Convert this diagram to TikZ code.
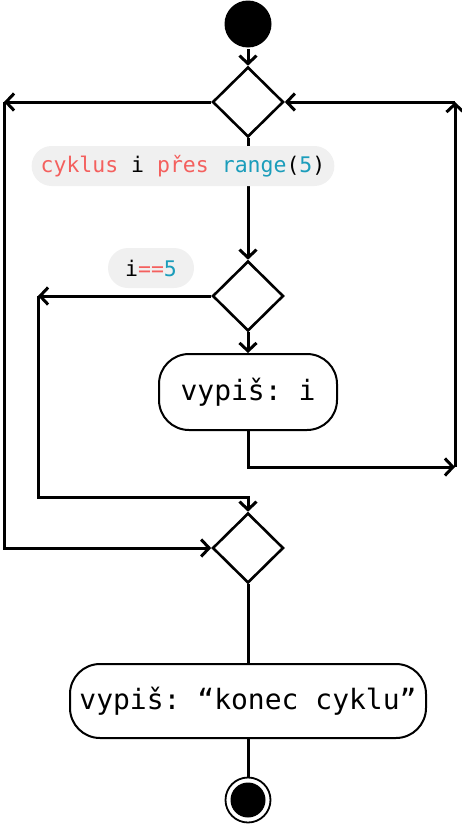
\documentclass[tikz,border=0pt]{standalone}
\usepackage{fontspec}
\setmonofont{DejaVu Sans Mono}
\usetikzlibrary{arrows.meta,shapes.geometric}
\definecolor{kwred}{HTML}{F4605E}
\definecolor{kwteal}{HTML}{1B9DBB}
\definecolor{tagfill}{HTML}{F0F0F0}

\begin{document}
\begin{tikzpicture}[x=1pt,y=-1pt,line width=3pt,
    flow/.style={-{Straight Barb[length=8pt,width=17pt]}},
    choice/.style={diamond,draw,line width=2.6pt,minimum width=71pt,minimum height=70pt,inner sep=0pt},
    action/.style={draw,line width=2pt,rounded corners=30pt,font=\ttfamily\fontsize{28}{32}\selectfont},
    guard/.style={fill=tagfill,rounded corners=20pt,font=\ttfamily\fontsize{21.5}{24}\selectfont,minimum height=40pt,inner xsep=9pt}]
  \useasboundingbox (0,0) rectangle (461,827);

  % activity nodes
  \node[circle,fill,minimum size=47pt,inner sep=0pt] (start) at (248,24) {};
  \node[choice] (loop) at (248,102) {};
  \node[choice] (test) at (248,296) {};
  \node[action,minimum width=178pt,minimum height=76pt] (print) at (248,392) {vypiš: i};
  \node[choice] (merge) at (248,548) {};
  \node[action,minimum width=356pt,minimum height=74pt] (bye) at (248,701) {vypiš: “konec cyklu”};
  \node[circle,draw,line width=1.8pt,minimum size=45pt,inner sep=0pt] (stop) at (248,800) {};
  \fill (stop.center) circle (17.5pt);

  % bends
  \coordinate (lt) at (4,102);
  \coordinate (lb) at (4,548);
  \coordinate (rt) at (455,102);
  \coordinate (rb) at (455,467);
  \coordinate (pb) at (248,467);
  \coordinate (it) at (38,296);
  \coordinate (ib) at (38,497);
  \coordinate (ir) at (248,497);

  \draw[flow] (start) -- (loop);
  \draw[flow] (loop.west) -- (lt);
  \draw[flow] (lt) -- (lb) -- (merge.west);
  \draw[flow] (loop) -- (test);
  \draw[flow] (test.west) -- (it);
  \draw[flow] (it) -- (ib) -- (ir) -- (merge.north);
  \draw[flow] (test) -- (print);
  \draw[flow] (print.south) -- (pb) -- (rb);
  \draw[flow] (rb) -- (rt);
  \draw[flow] (rt) -- (loop.east);
  \draw (merge) -- (bye);
  \draw (bye) -- (stop);

  % guards
  \node[guard] (range) at (183,166) {\textcolor{kwred}{cyklus} i \textcolor{kwred}{přes} \textcolor{kwteal}{range}(\textcolor{kwteal}{5})};
  \node[guard,minimum width=86pt] (cond) at (151,268) {i\textcolor{kwred}{==}\textcolor{kwteal}{5}};
\end{tikzpicture}
\end{document}
